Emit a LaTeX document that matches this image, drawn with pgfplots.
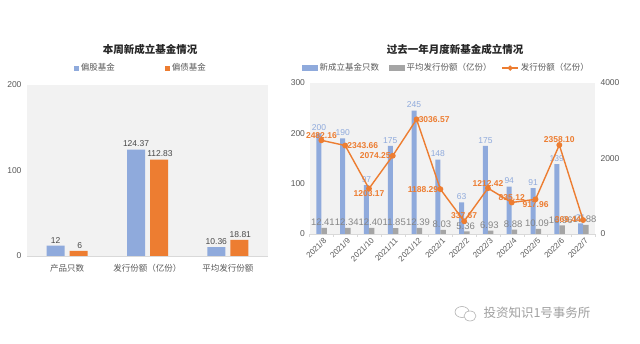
\documentclass[border=0pt]{standalone}
\usepackage{pgfplots}
\pgfplotsset{compat=1.18}
\usepackage{fontspec}
\setmainfont{Liberation Sans}
\newfontfamily\cjk{Noto Sans CJK SC}
\definecolor{blueC}{HTML}{8FAADC}
\definecolor{orangeC}{HTML}{ED7D31}
\definecolor{grayC}{HTML}{A5A5A5}
\definecolor{bgC}{HTML}{F2F2F2}
\definecolor{tickC}{HTML}{595959}
\definecolor{lineC}{HTML}{D9D9D9}
\definecolor{titleC}{HTML}{262626}
\begin{document}
\begin{tikzpicture}
\path[use as bounding box, fill=white] (0pt,0pt) rectangle (640pt,343pt);
\node[font=\cjk\bfseries\fontsize{10.5}{12}\selectfont, text=titleC] at (150pt,293pt) {本周新成立基金情况};
\node[font=\cjk\bfseries\fontsize{10.5}{12}\selectfont, text=titleC] at (455pt,293pt) {过去一年月度新基金成立情况};

% ---------- left chart ----------
\begin{axis}[
  at={(27pt,87pt)}, anchor=south west, scale only axis,
  width=241pt, height=171pt,
  xmin=-0.5, xmax=2.5, ymin=0, ymax=200,
  xtick={0,1,2}, xticklabels={产品只数,发行份额（亿份）,平均发行份额},
  ytick={0,100,200},
  axis background/.style={fill=bgC},
  axis x line*=bottom, axis y line*=left,
  x axis line style={draw=lineC,-}, y axis line style={draw=none,-},
  major tick length=0pt,
  tick label style={font=\fontsize{8.5}{10}\selectfont, text=tickC},
  x tick label style={font=\cjk\fontsize{8.5}{10}\selectfont, yshift=-5pt},
  y tick label style={xshift=-2pt},
  /pgf/number format/assume math mode=true,
  legend style={at={(0.473,1.099)}, anchor=center, draw=none, fill=none,
    font=\cjk\fontsize{8.5}{10}\selectfont, text=tickC, legend columns=2,
    /tikz/every even column/.append style={column sep=48pt}},
  legend image code/.code={\fill[#1] (0pt,-2.5pt) rectangle (5pt,2.5pt);},
  point meta=explicit symbolic,
  nodes near coords,
  every node near coord/.append style={font=\fontsize{8.5}{10}\selectfont, text=titleC!85, inner sep=2.5pt},
]
\addplot[ybar, bar width=18pt, bar shift=-11.5pt, fill=blueC, draw=none,
  every node near coord/.append style={xshift=-11.5pt}]
  coordinates {(0,12)[12] (1,124.37)[124.37] (2,10.36)[10.36]};
\addlegendentry{偏股基金}
\addplot[ybar, bar width=18pt, bar shift=11.5pt, fill=orangeC, draw=none,
  every node near coord/.append style={xshift=12.5pt}]
  coordinates {(0,6)[6] (1,112.83)[112.83] (2,18.81)[18.81]};
\addlegendentry{偏债基金}
\end{axis}

% ---------- right chart: bars ----------
\begin{axis}[
  at={(309.5pt,109pt)}, anchor=south west, scale only axis,
  width=285.5pt, height=151pt,
  xmin=-0.5, xmax=11.5, ymin=0, ymax=300,
  xtick={0,...,11},
  xticklabels={2021/8,2021/9,2021/10,2021/11,2021/12,2022/1,2022/2,2022/3,2022/4,2022/5,2022/6,2022/7},
  minor xtick={-0.5,0.5,...,11.5},
  ytick={0,100,200,300},
  axis background/.style={fill=bgC},
  axis x line*=bottom, axis y line*=left,
  x axis line style={draw=lineC,-}, y axis line style={draw=none,-},
  major tick length=0pt, minor tick length=3pt, tick align=outside,
  minor tick style={draw=lineC},
  tick label style={font=\fontsize{8.5}{10}\selectfont, text=tickC},
  x tick label style={font=\fontsize{8}{9}\selectfont, rotate=45, anchor=north east, xshift=2pt},
  y tick label style={xshift=-1pt},
  /pgf/number format/assume math mode=true,
  point meta=explicit symbolic,
  nodes near coords,
]
\addplot[ybar, bar width=5pt, bar shift=-2.5pt, fill=blueC, draw=none,
  every node near coord/.append style={font=\fontsize{8.5}{10}\selectfont, text=blueC, inner sep=2.5pt, xshift=-2.5pt}]
  coordinates {(0,200)[200] (1,190)[190] (2,97)[97] (3,175)[175] (4,245)[245] (5,148)[148]
               (6,63)[63] (7,175)[175] (8,94)[94] (9,91)[91] (10,139)[139] (11,21)[21]};
\addplot[ybar, bar width=5.5pt, bar shift=2.75pt, fill=grayC, draw=none,
  every node near coord/.append style={font=\fontsize{9.5}{10}\selectfont, text=gray!95, inner sep=2pt, xshift=1.5pt}]
  coordinates {(0,12.41)[12.41] (1,12.34)[12.34] (2,12.40)[12.40] (3,11.85)[11.85] (4,12.39)[12.39] (5,8.03)[8.03]
               (6,5.36)[5.36] (7,6.93)[6.93] (8,8.88)[8.88] (9,10.09)[10.09] (10,16.96)[16.96] (11,17.88)[17.88]};
\end{axis}

% ---------- right chart: line ----------
\begin{axis}[
  at={(309.5pt,109pt)}, anchor=south west, scale only axis,
  width=285.5pt, height=151pt,
  xmin=-0.5, xmax=11.5, ymin=0, ymax=4000,
  axis y line*=right, hide x axis,
  y axis line style={draw=none,-},
  ytick={0,2000,4000},
  major tick length=0pt,
  tick label style={font=\fontsize{8.5}{10}\selectfont, text=tickC},
  y tick label style={xshift=2pt},
  /pgf/number format/assume math mode=true,
  /pgf/number format/1000 sep={},
  legend style={at={(0.48,1.099)}, anchor=center, draw=none, fill=none,
    font=\cjk\fontsize{8.5}{10}\selectfont, text=tickC, legend columns=3,
    /tikz/every even column/.append style={column sep=8pt}},
]
\addlegendimage{legend image code/.code={\fill[blueC] (0pt,-2.5pt) rectangle (15pt,2.5pt);}}
\addlegendentry{新成立基金只数}
\addlegendimage{legend image code/.code={\fill[grayC] (0pt,-2.5pt) rectangle (15pt,2.5pt);}}
\addlegendentry{平均发行份额（亿份）}
\addplot[orangeC, line width=1.4pt, mark=*, mark size=2.2pt,
  mark options={fill=orangeC, draw=orangeC},
  point meta=explicit symbolic, nodes near coords,
  visualization depends on={value \thisrow{anc} \as \myanc},
  every node near coord/.append style={font=\bfseries\fontsize{8.5}{10}\selectfont, text=orangeC, anchor=\myanc, inner sep=1.5pt},
  legend image code/.code={\draw[orangeC, line width=1.2pt] (0pt,0pt) -- (16pt,0pt); \fill[orangeC] (8pt,0pt) circle (1.8pt);}]
  table[x=x, y=y, meta=lab] {
x y lab anc
0 2482.16 2482.16 south
1 2343.66 2343.66 west
2 1203.17 1203.17 north
3 2074.25 2074.25 east
4 3036.57 3036.57 west
5 1188.29 1188.29 east
6 337.67 337.67 south
7 1212.42 1212.42 south
8 835.12 835.12 south
9 917.96 917.96 north
10 2358.10 2358.10 south
11 369.44 369.44 east
};
\addlegendentry{发行份额（亿份）}
\end{axis}

% ---------- watermark ----------
\draw[gray!60, line width=0.6pt] (462pt,31pt) ellipse (7pt and 5.5pt);
\draw[gray!60, line width=0.6pt, fill=white] (470pt,27pt) ellipse (6pt and 5pt);
\node[font=\cjk\fontsize{12.5}{14}\selectfont, text=gray!75, anchor=west] at (480pt,30pt) {投资知识1号事务所};
\end{tikzpicture}
\end{document}
